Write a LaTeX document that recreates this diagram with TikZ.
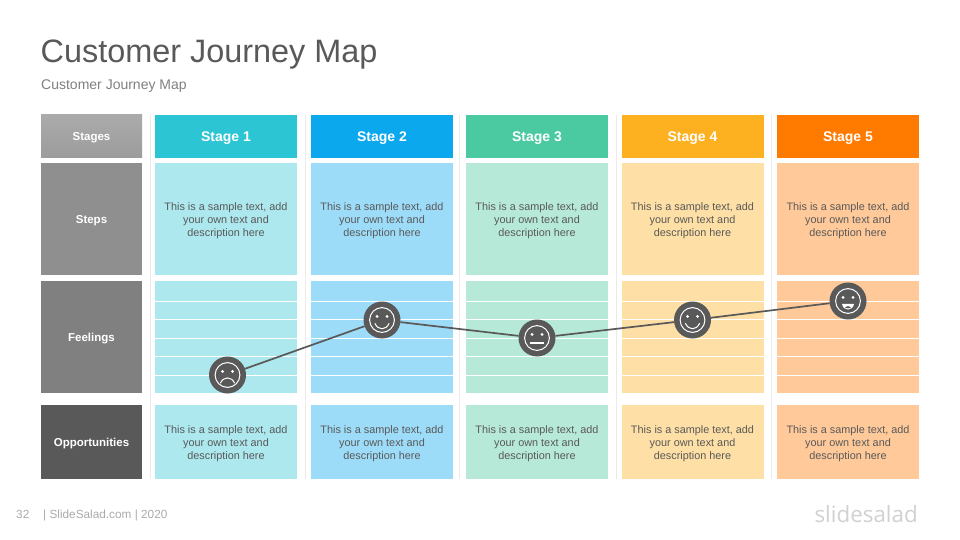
\documentclass[tikz,border=0pt]{standalone}
\usepackage{fontspec}
\setmainfont{Liberation Sans}
\newfontfamily\logofont{Open Sans}
\usetikzlibrary{calc}
\definecolor{ink}{HTML}{595959}
\definecolor{sA}{HTML}{2CC5D3}\definecolor{sB}{HTML}{0BA8EE}\definecolor{sC}{HTML}{4BC9A0}\definecolor{sD}{HTML}{FDB120}\definecolor{sE}{HTML}{FF7B00}
\definecolor{lA}{HTML}{ACE8EE}\definecolor{lB}{HTML}{9DDCF8}\definecolor{lC}{HTML}{B7E9D8}\definecolor{lD}{HTML}{FEDFA5}\definecolor{lE}{HTML}{FFC99A}
\tikzset{
 cell/.style={inner sep=0pt,outer sep=0pt,minimum width=142pt},
 head/.style={cell,minimum height=43pt,text=white,text depth=0pt,font=\fontsize{14}{16}\selectfont\bfseries},
 tall/.style={cell,minimum height=112pt},
 short/.style={cell,minimum height=74pt},
 body/.style={align=center,text=ink,inner sep=0pt,font=\fontsize{10.85}{13}\selectfont},
 side/.style={inner sep=0pt,outer sep=0pt,minimum width=101pt,text=white,text depth=0pt,font=\fontsize{11.5}{14}\selectfont\bfseries},
 sep/.style={draw=black!8,line width=.7pt},
 stripe/.style={draw=white,line width=.8pt},
 mood/.style={circle,fill=ink,inner sep=0pt,outer sep=0pt,minimum size=37pt},
 link/.style={draw=ink,line width=1.7pt},
 ring/.style={draw=white,line width=1pt},
}
\newcommand{\faceeyes}[1]{\fill[white] ($(#1)+(-5,-3.6)$) circle (1.6pt) ($(#1)+(5,-3.6)$) circle (1.6pt);\draw[ring] (#1) circle (12.4pt);}
\newcommand{\sampletext}{This is a sample text, add\\your own text and\\description here}
\begin{document}
\begin{tikzpicture}[x=1pt,y=-1pt]
\useasboundingbox (0,0) rectangle (960,540);
\fill[white] (0,0) rectangle (960,540);
\node[anchor=base west,inner sep=0pt,text=ink,font=\fontsize{32.4}{34}\selectfont] (title) at (40.5,63) {Customer Journey Map};
\node[anchor=base west,inner sep=0pt,text=black!50,font=\fontsize{14}{16}\selectfont] (subtitle) at (41,90) {Customer Journey Map};
% separators
\foreach \x in {150,305,459.5,616,771}{\draw[sep] (\x,115) -- (\x,479);}
% side labels
\node[side,minimum height=43pt,top color=black!33,bottom color=black!39] (rowA) at (91.5,136.5) {Stages};
\node[side,minimum height=112pt,fill=black!44] (rowB) at (91.5,219) {Steps};
\node[side,minimum height=112pt,fill=black!50] (rowC) at (91.5,337) {Feelings};
\node[side,minimum height=74pt,fill=black!65] (rowD) at (91.5,442) {Opportunities};
% columns
\foreach \n/\x/\c/\l/\s in {1/226/sA/lA/Stage 1,2/382/sB/lB/Stage 2,3/537/sC/lC/Stage 3,4/692.5/sD/lD/Stage 4,5/848/sE/lE/Stage 5}{
 \node[head,fill=\c] (h\n) at (\x,136.5) {\s};
 \node[tall,fill=\l] (st\n) at (\x,219) {};
 \node[body] (stt\n) at ($(st\n)+(0,2)$) {\sampletext};
 \node[tall,fill=\l] (fe\n) at (\x,337) {};
 \node[short,fill=\l] (op\n) at (\x,442) {};
 \node[body] (opt\n) at ($(op\n)+(0,2)$) {\sampletext};
 \foreach \y in {301,319.5,338,356.5,375.5}{
  \draw[stripe] (fe\n.west |- 0,\y) -- (fe\n.east |- 0,\y);
 }
}
% moods
\node[mood] (m1) at (227.5,375) {};
\node[mood] (m2) at (382,320) {};
\node[mood] (m3) at (537,338) {};
\node[mood] (m4) at (692.5,320) {};
\node[mood] (m5) at (848,301) {};
\draw[link] (m1) -- (m2);
\draw[link] (m2) -- (m3);
\draw[link] (m3) -- (m4);
\draw[link] (m4) -- (m5);
\faceeyes{m1}
\draw[ring,line cap=round] ($(m1)+(-7,8)$) .. controls ($(m1)+(-4,1.2)$) and ($(m1)+(4,1.2)$) .. ($(m1)+(7,8)$);
\faceeyes{m2}
\draw[ring,line cap=round] ($(m2)+(-7,3.5)$) .. controls ($(m2)+(-4,10.5)$) and ($(m2)+(4,10.5)$) .. ($(m2)+(7,3.5)$);
\faceeyes{m3}
\draw[white,line width=1.2pt] ($(m3)+(-7,5)$) -- ($(m3)+(7,5)$);
\faceeyes{m4}
\draw[ring,line cap=round] ($(m4)+(-7,3.5)$) .. controls ($(m4)+(-4,10.5)$) and ($(m4)+(4,10.5)$) .. ($(m4)+(7,3.5)$);
\faceeyes{m5}
\fill[white] ($(m5)+(-6,2.8)$) -- ($(m5)+(6,2.8)$) .. controls ($(m5)+(5,10.5)$) and ($(m5)+(-5,10.5)$) .. cycle;
\fill[ink] ($(m5)+(-3,6.2)$) .. controls ($(m5)+(-1.5,4.8)$) and ($(m5)+(1.5,4.8)$) .. ($(m5)+(3,6.2)$) .. controls ($(m5)+(2,7.6)$) and ($(m5)+(-2,7.6)$) .. cycle;
% footer
\node[anchor=base west,inner sep=0pt,text=black!33,font=\fontsize{11.8}{13}\selectfont] (pg) at (16,518) {32};
\node[anchor=base west,inner sep=0pt,text=black!33,font=\fontsize{11.8}{13}\selectfont] (foot) at (43,518) {| SlideSalad.com | 2020};
\node[anchor=base east,inner sep=0pt,text=black!18,font=\logofont\fontsize{22.4}{24}\selectfont] (logo) at (918,522) {slidesalad};
\end{tikzpicture}
\end{document}
